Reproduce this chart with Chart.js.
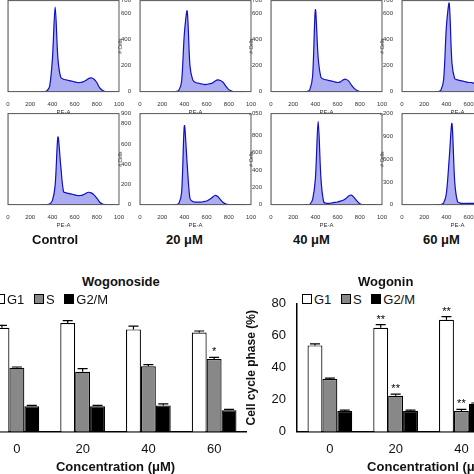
<!DOCTYPE html>
<html>
<head>
<meta charset="utf-8">
<script src="https://cdn.jsdelivr.net/npm/chart.js@4.4.0/dist/chart.umd.min.js"></script>
<style>
body { margin: 0; width: 474px; height: 474px; overflow: hidden; position: relative; background: #fff; font-family: "Liberation Sans", Arial, sans-serif; }
.box { position: absolute; }
.lab { position: absolute; font-weight: bold; font-size: 13px; color: #111; }
.leg { position: absolute; font-size: 13px; color: #111; white-space: nowrap; }
.sq { display: inline-block; width: 8px; height: 8px; border: 1px solid #000; margin: 0 2px 0 0; vertical-align: 0px; }
</style>
</head>
<body>
<div class="box" style="left:-14px;top:-4px;width:139px;height:120px"><canvas id="h0"></canvas></div>
<div class="box" style="left:118px;top:-4px;width:139px;height:120px"><canvas id="h1"></canvas></div>
<div class="box" style="left:249px;top:-4px;width:139px;height:120px"><canvas id="h2"></canvas></div>
<div class="box" style="left:380px;top:-4px;width:139px;height:120px"><canvas id="h3"></canvas></div>
<div class="box" style="left:-14px;top:109px;width:139px;height:120px"><canvas id="h4"></canvas></div>
<div class="box" style="left:118px;top:109px;width:139px;height:120px"><canvas id="h5"></canvas></div>
<div class="box" style="left:249px;top:109px;width:139px;height:120px"><canvas id="h6"></canvas></div>
<div class="box" style="left:380px;top:109px;width:139px;height:120px"><canvas id="h7"></canvas></div>

<div class="lab" style="left:32px;top:232px">Control</div>
<div class="lab" style="left:166px;top:232px">20 μM</div>
<div class="lab" style="left:293px;top:232px">40 μM</div>
<div class="lab" style="left:423px;top:232px">60 μM</div>

<div class="lab" style="left:82px;top:274px">Wogonoside</div>
<div class="lab" style="left:358px;top:274px">Wogonin</div>
<div class="leg" style="left:-5px;top:292px"><span class="sq" style="background:#fff"></span>G1 <span class="sq" style="background:#888;margin-left:6px"></span>S <span class="sq" style="background:#000;margin-left:6px"></span>G2/M</div>
<div class="leg" style="left:302px;top:292px"><span class="sq" style="background:#fff"></span>G1 <span class="sq" style="background:#888;margin-left:6px"></span>S <span class="sq" style="background:#000;margin-left:6px"></span>G2/M</div>

<div class="box" style="left:-73px;top:293px;width:320px;height:182px"><canvas id="b0"></canvas></div>
<div class="box" style="left:240px;top:293px;width:320px;height:182px"><canvas id="b1"></canvas></div>

<script>
// histogram bins (PE-A)
var pe = [300,325,350,375,400,425,450,475,500,525,550,575,600,625,650,675,700,725,750,775,800,825,850,875,900,925,950];
var ctrl1 = [0,0,5,40,250,650,250,110,95,90,85,80,75,70,70,75,85,100,105,95,70,30,10,0,0,0,0];
var um20a = [0,0,10,80,450,620,200,90,70,65,60,55,55,60,65,80,90,85,70,40,15,5,0,0,0,0,0];
var um40a = [0,0,15,120,630,260,110,95,90,85,80,75,70,75,90,95,80,50,25,8,0,0,0,0,0,0,0];
var um60a = [0,0,10,90,500,680,220,100,90,85,80,75,70,70,65,65,60,55,45,30,15,5,0,0,0,0,0];
var ctrl2 = [0,0,0,5,30,150,520,300,100,90,85,80,75,70,70,75,85,95,90,75,50,20,5,0,0,0,0];
var um20b = [0,0,10,120,780,400,60,30,25,25,25,30,35,50,70,90,80,50,20,5,0,0,0,0,0,0,0];
var um40b = [0,0,5,60,300,960,300,30,15,15,20,25,30,40,50,70,100,110,80,40,10,0,0,0,0,0,0];
var um60b = [0,0,0,20,150,600,1070,300,40,20,15,15,15,15,15,15,15,15,10,5,0,0,0,0,0,0,0];
var hists = [ctrl1, um20a, um40a, um60a, ctrl2, um20b, um40b, um60b];
var yMax = [700, 700, 700, 700, 700, 900, 1050, 1200];
var yStep = [200, 200, 200, 200, 200, 200, 200, 300];

// bar chart data
var conc = ['0', '20', '40', '60'];
var wgsG1 = [65, 68, 64, 62], wgsG1e = [1.5, 1.5, 2, 1];
var wgsS = [40, 37.5, 41, 45.5], wgsSe = [0.5, 2, 1, 1];
var wgsG2 = [16, 16, 16.5, 13.5], wgsG2e = [0.5, 0.5, 1, 0.5];
var wgnG1 = [54, 65, 70, 72], wgnG1e = [1, 2, 2, 2];
var wgnS = [33, 22.5, 13, 12], wgnSe = [0.5, 1, 1, 1];
var wgnG2 = [13, 13, 17.5, 18], wgnG2e = [0.5, 0.5, 0.5, 0.5];
var wgsStars = [['', '', '', ''], ['', '', '', '*'], ['', '', '', '']];
var wgnStars = [['', '**', '**', '**'], ['', '**', '**', '**'], ['', '', '*', '*']];

var frame = {
    id: 'frame',
    afterDraw: function(c) {
        var a = c.chartArea, g = c.ctx;
        g.save();
        g.strokeStyle = '#555';
        g.lineWidth = 1;
        g.strokeRect(a.left, a.top, a.right - a.left, a.bottom - a.top);
        g.restore();
    }
};

hists.forEach(function(h, i) {
    new Chart(document.getElementById('h' + i), {
        type: 'line',
        data: {
            datasets: [{
                data: pe.map(function(x, k) { return { x: x, y: h[k] }; }),
                borderColor: '#1010c0',
                borderWidth: 1.2,
                backgroundColor: 'rgba(90,90,230,0.5)',
                fill: true,
                pointRadius: 0,
                tension: 0.3
            }]
        },
        options: {
            animation: false,
            responsive: true,
            maintainAspectRatio: false,
            layout: { padding: { top: 4, right: 2 } },
            plugins: { legend: { display: false }, tooltip: { enabled: false } },
            scales: {
                x: {
                    type: 'linear', min: 0, max: 1000,
                    grid: { display: false },
                    ticks: { stepSize: 200, font: { size: 6 }, color: '#333', padding: 1, maxRotation: 0,
                        callback: function(v) { return v === 1000 ? '100' : v; } },
                    title: { display: true, text: 'PE-A', font: { size: 6 }, color: '#333', padding: 0 }
                },
                y: {
                    min: 0, max: yMax[i],
                    grid: { display: false },
                    afterFit: function(s) { s.width = 22; },
                    ticks: { stepSize: yStep[i], font: { size: 6 }, color: '#333', padding: 1 },
                    title: { display: true, text: '# Cells', font: { size: 5 }, color: '#333', padding: 0 }
                }
            }
        },
        plugins: [frame]
    });
});

function errPlugin(errs, stars) {
    return {
        id: 'err',
        afterDatasetsDraw: function(c) {
            var g = c.ctx, ys = c.scales.y;
            g.save();
            g.strokeStyle = '#000';
            g.lineWidth = 1.2;
            g.fillStyle = '#000';
            g.font = '11px "Liberation Sans", Arial';
            g.textAlign = 'center';
            c.data.datasets.forEach(function(d, di) {
                c.getDatasetMeta(di).data.forEach(function(bar, k) {
                    var top = ys.getPixelForValue(d.data[k] + errs[di][k]);
                    g.beginPath();
                    g.moveTo(bar.x, bar.y); g.lineTo(bar.x, top);
                    g.moveTo(bar.x - 5, top); g.lineTo(bar.x + 5, top);
                    g.stroke();
                    if (stars[di][k]) g.fillText(stars[di][k], bar.x, top - 2);
                });
            });
            g.restore();
        }
    };
}

function barChart(id, g1, s, g2, errs, stars, title) {
    new Chart(document.getElementById(id), {
        type: 'bar',
        data: {
            labels: conc,
            datasets: [
                { label: 'G1', data: g1, backgroundColor: '#fff', borderColor: '#000', borderWidth: 1.2 },
                { label: 'S', data: s, backgroundColor: '#888', borderColor: '#000', borderWidth: 1.2 },
                { label: 'G2/M', data: g2, backgroundColor: '#000', borderColor: '#000', borderWidth: 1.2 }
            ]
        },
        options: {
            animation: false,
            responsive: true,
            maintainAspectRatio: false,
            layout: { padding: { top: 6 } },
            datasets: { bar: { categoryPercentage: 0.68, barPercentage: 1 } },
            plugins: { legend: { display: false }, tooltip: { enabled: false } },
            scales: {
                x: {
                    grid: { display: false },
                    border: { color: '#000', width: 1.5 },
                    ticks: { font: { size: 13 }, color: '#111', padding: 2 },
                    title: { display: true, text: title, font: { size: 13, weight: 'bold' }, color: '#111', padding: 0 }
                },
                y: {
                    min: 0, max: 80,
                    grid: { display: false },
                    border: { color: '#000', width: 1.5 },
                    afterFit: function(sc) { sc.width = 57; },
                    ticks: { stepSize: 20, font: { size: 13 }, color: '#111' },
                    title: { display: true, text: 'Cell cycle phase (%)', font: { size: 12, weight: 'bold' }, color: '#111' }
                }
            }
        },
        plugins: [errPlugin(errs, stars)]
    });
}

barChart('b0', wgsG1, wgsS, wgsG2, [wgsG1e, wgsSe, wgsG2e], wgsStars, 'Concentration (μM)');
barChart('b1', wgnG1, wgnS, wgnG2, [wgnG1e, wgnSe, wgnG2e], wgnStars, 'Concentrationl (μM)');
</script>
</body>
</html>
